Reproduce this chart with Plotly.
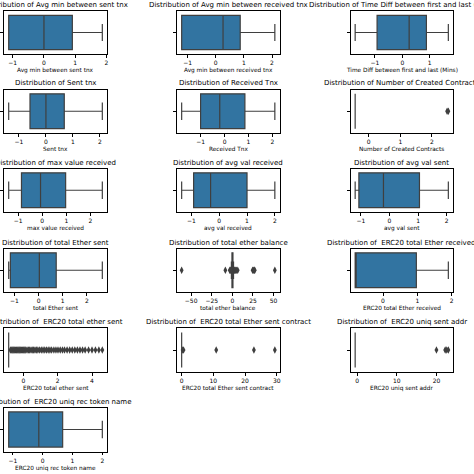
import plotly.graph_objects as go

# ---- data ----
features = [
    "Avg min between sent tnx",
    "Avg min between received tnx",
    "Time Diff between first and last (Mins)",
    "Sent tnx",
    "Received Tnx",
    "Number of Created Contracts",
    "max value received",
    "avg val received",
    "avg val sent",
    "total Ether sent",
    "total ether balance",
    " ERC20 total Ether received",
    " ERC20 total ether sent",
    " ERC20 total Ether sent contract",
    " ERC20 uniq sent addr",
    " ERC20 uniq rec token name",
]
lower_fence = [-1.13, -1.21, -1.72, -1.38, -1.79, -0.43, -1.39, -1.35, -1.20, -1.24, -1.2, -0.81, -0.85, 0.0, -0.5, -1.14]
q1_vals     = [-1.13, -1.21, -0.92, -0.59, -1.00, -0.43, -0.86, -0.92, -1.07, -1.17, -0.5, -0.81, -0.85, 0.0, -0.5, -1.14]
median_vals = [0.00, 0.26, 0.25, 0.00, -0.20, -0.43, -0.07, -0.31, -0.21, 0.03, 0.0, -0.81, -0.85, 0.0, -0.5, -0.13]
q3_vals     = [0.91, 0.87, 0.88, 0.68, 0.85, -0.43, 0.97, 1.00, 1.05, 0.73, 0.7, 0.97, -0.85, 0.0, -0.5, 0.67]
upper_fence = [1.87, 2.10, 1.68, 2.09, 2.10, -0.43, 2.49, 2.00, 2.06, 2.64, 1.4, 1.90, -0.85, 0.0, -0.5, 2.00]
outliers = {
    5: [2.48, 2.52],
    10: [-61.5, -8.5, -3.2, -2.4, -1.8, 1.8, 2.4, 3.1, 4.0, 5.0, 6.5, 24.5, 25.5, 26.6, 27.2, 51.5],
    12: [-0.75, -0.7, -0.65, -0.6, -0.55, -0.5, -0.45, -0.4, -0.35, -0.3, -0.25, -0.2, -0.15,
         -0.1, -0.05, 0.0, 0.05, 0.1, 0.15, 0.22, 0.3, 0.37, 0.45, 0.52, 0.6, 0.68, 0.76, 0.85,
         0.95, 1.05, 1.15, 1.25, 1.35, 1.45, 1.55, 1.65, 1.78, 1.9, 2.02, 2.15, 2.28, 2.4, 2.55,
         2.7, 2.85, 3.0, 3.15, 3.3, 3.45, 3.6, 3.8, 4.0, 4.2, 4.4, 4.6],
    13: [0.3, 0.6, 10.9, 22.8, 29.4],
    14: [20.0, 22.2, 22.6, 23.0],
}
tick_steps = [1, 1, 1, 1, 1, 1, 1, 1, 1, 1, 25, 1, 2, 10, 10, 1]

# ---- layout geometry (pixels) ----
W = H = 474
col_px = [(4, 107), (177, 279.5), (350.5, 453)]
row_px = [(11, 54), (89.5, 133), (168.5, 212), (248.5, 292), (328, 372), (407.5, 451.5)]

BOX_COLOR = "#3274a1"
LINE_COLOR = "#3f3f3f"
FONT = "DejaVu Sans"

fig = go.Figure()
annotations = []
for i, name in enumerate(features):
    r, c = divmod(i, 3)
    ax = "" if i == 0 else str(i + 1)
    xd = [col_px[c][0] / W, col_px[c][1] / W]
    yd = [1 - row_px[r][1] / H, 1 - row_px[r][0] / H]

    fig.add_trace(go.Box(
        y=[0], q1=[q1_vals[i]], median=[median_vals[i]], q3=[q3_vals[i]],
        lowerfence=[lower_fence[i]], upperfence=[upper_fence[i]],
        orientation="h", width=0.8, whiskerwidth=0.5, boxpoints=False,
        fillcolor=BOX_COLOR, line=dict(color=LINE_COLOR, width=1.2),
        xaxis="x" + ax, yaxis="y" + ax, showlegend=False, hoverinfo="skip",
    ))
    pts = outliers.get(i, [])
    if pts:
        fig.add_trace(go.Scatter(
            x=pts, y=[0] * len(pts), mode="markers",
            marker=dict(symbol="diamond-tall", size=5.5, color=LINE_COLOR,
                        line=dict(width=0)),
            xaxis="x" + ax, yaxis="y" + ax, showlegend=False, hoverinfo="skip",
        ))

    vals = [lower_fence[i], upper_fence[i]] + pts
    lo, hi = min(vals), max(vals)
    pad = (hi - lo) * 0.05
    axis_common = dict(showline=True, mirror=True, linecolor="black", linewidth=0.8,
                       showgrid=False, zeroline=False, ticks="outside", ticklen=3,
                       tickwidth=0.8, tickcolor="black")
    fig.layout["xaxis" + ax] = dict(
        domain=xd, anchor="y" + ax, range=[lo - pad, hi + pad],
        tick0=0, dtick=tick_steps[i],
        tickfont=dict(family=FONT, size=6.0, color="black"),
        **axis_common)
    fig.layout["yaxis" + ax] = dict(
        domain=yd, anchor="x" + ax, range=[0.5, -0.5],
        tickvals=[0], ticktext=[""], **axis_common)

    cx = (xd[0] + xd[1]) / 2
    annotations.append(dict(
        text="Distribution of " + name, x=cx, y=yd[1], xref="paper", yref="paper",
        xanchor="center", yanchor="bottom", yshift=0, showarrow=False,
        font=dict(family=FONT, size=7.0, color="black")))
    annotations.append(dict(
        text=name.strip(), x=cx, y=yd[0], xref="paper", yref="paper",
        xanchor="center", yanchor="top", yshift=-11.0, showarrow=False,
        font=dict(family=FONT, size=5.8, color="black")))

fig.update_layout(
    width=W, height=H, margin=dict(l=0, r=0, t=0, b=0),
    paper_bgcolor="white", plot_bgcolor="white",
    annotations=annotations, showlegend=False,
)
fig.write_html("out.html", config={"displayModeBar": False},
               post_script="document.body.style.margin='0';")
